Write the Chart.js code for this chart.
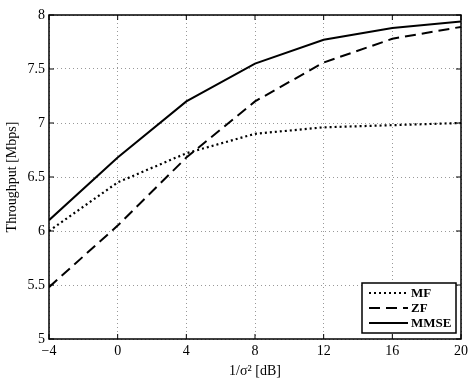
<!DOCTYPE html>
<html>
<head>
<meta charset="utf-8">
<script src="https://cdn.jsdelivr.net/npm/chart.js@4"></script>
<style>
  html, body { margin: 0; padding: 0; background: #fff; }
  #wrap { width: 474px; height: 384px; }
</style>
</head>
<body>
<div id="wrap"><canvas id="myChart"></canvas></div>
<script>
const snr = [-4, 0, 4, 8, 12, 16, 20];
const mf = [6.0, 6.45, 6.72, 6.9, 6.96, 6.98, 7.0];
const zf = [5.48, 6.05, 6.68, 7.2, 7.56, 7.78, 7.89];
const mmse = [6.1, 6.68, 7.2, 7.55, 7.77, 7.88, 7.94];
const xTicks = [-4, 0, 4, 8, 12, 16, 20];
const yTicks = [5, 5.5, 6, 6.5, 7, 7.5, 8];

const serif = '"Liberation Serif", "DejaVu Serif", serif';
const pts = arr => arr.map((v, i) => ({ x: snr[i], y: v }));

// box, inward ticks and the legend drawn inside the plot
const matlabBox = {
  id: 'matlabBox',
  afterDraw(chart) {
    const { ctx, chartArea: a, scales } = chart;
    ctx.save();
    ctx.strokeStyle = '#000';
    ctx.lineWidth = 1.5;
    ctx.strokeRect(a.left, a.top, a.right - a.left, a.bottom - a.top);
    ctx.lineWidth = 1;
    ctx.beginPath();
    xTicks.forEach(t => {
      const x = scales.x.getPixelForValue(t);
      ctx.moveTo(x, a.bottom); ctx.lineTo(x, a.bottom - 5);
      ctx.moveTo(x, a.top); ctx.lineTo(x, a.top + 5);
    });
    yTicks.forEach(t => {
      const y = scales.y.getPixelForValue(t);
      ctx.moveTo(a.left, y); ctx.lineTo(a.left + 5, y);
      ctx.moveTo(a.right, y); ctx.lineTo(a.right - 5, y);
    });
    ctx.stroke();

    // legend
    const bx = a.right - 99, by = a.bottom - 56, bw = 94, bh = 50;
    ctx.fillStyle = '#fff';
    ctx.fillRect(bx, by, bw, bh);
    ctx.lineWidth = 1.5;
    ctx.strokeRect(bx, by, bw, bh);
    ctx.font = 'bold 13px ' + serif;
    ctx.textBaseline = 'middle';
    chart.data.datasets.forEach((ds, i) => {
      const y = by + 10 + i * 15;
      ctx.beginPath();
      ctx.setLineDash(ds.borderDash || []);
      ctx.lineWidth = ds.borderWidth;
      ctx.moveTo(bx + 7, y);
      ctx.lineTo(bx + 46, y);
      ctx.stroke();
      ctx.setLineDash([]);
      ctx.fillStyle = '#000';
      ctx.fillText(ds.label, bx + 49, y + 1);
    });
    ctx.restore();
  }
};

new Chart(document.getElementById('myChart'), {
  type: 'line',
  data: {
    datasets: [
      { label: 'MF', data: pts(mf), borderColor: '#000', borderWidth: 2.2, borderDash: [2, 3] },
      { label: 'ZF', data: pts(zf), borderColor: '#000', borderWidth: 2, borderDash: [11, 6] },
      { label: 'MMSE', data: pts(mmse), borderColor: '#000', borderWidth: 2 }
    ]
  },
  options: {
    responsive: true,
    maintainAspectRatio: false,
    animation: false,
    elements: { point: { radius: 0 }, line: { tension: 0 } },
    layout: { padding: { top: 15, right: 13, left: 0, bottom: 0 } },
    plugins: { legend: { display: false }, tooltip: { enabled: false } },
    scales: {
      x: {
        type: 'linear',
        min: -4, max: 20,
        afterBuildTicks: s => { s.ticks = xTicks.map(v => ({ value: v })); },
        afterFit: s => { s.height = 45; },
        grid: { color: '#999', lineWidth: 1, drawTicks: false },
        border: { display: false, dash: [1, 3] },
        ticks: {
          color: '#000', padding: 4,
          font: { family: serif, size: 14 },
          callback: v => (v < 0 ? '\u2212' + Math.abs(v) : String(v))
        },
        title: {
          display: true, text: '1/\u03c3\u00b2 [dB]', color: '#000',
          font: { family: serif, size: 14 }, padding: { top: 1 }
        }
      },
      y: {
        min: 5, max: 8,
        afterBuildTicks: s => { s.ticks = yTicks.map(v => ({ value: v })); },
        afterFit: s => { s.width = 49; },
        grid: { color: '#999', lineWidth: 1, drawTicks: false },
        border: { display: false, dash: [1, 3] },
        ticks: {
          color: '#000', padding: 4,
          font: { family: serif, size: 14 },
          callback: v => String(v)
        },
        title: {
          display: true, text: 'Throughput [Mbps]', color: '#000',
          font: { family: serif, size: 14 }, padding: { bottom: 0 }
        }
      }
    }
  },
  plugins: [matlabBox]
});
</script>
</body>
</html>
